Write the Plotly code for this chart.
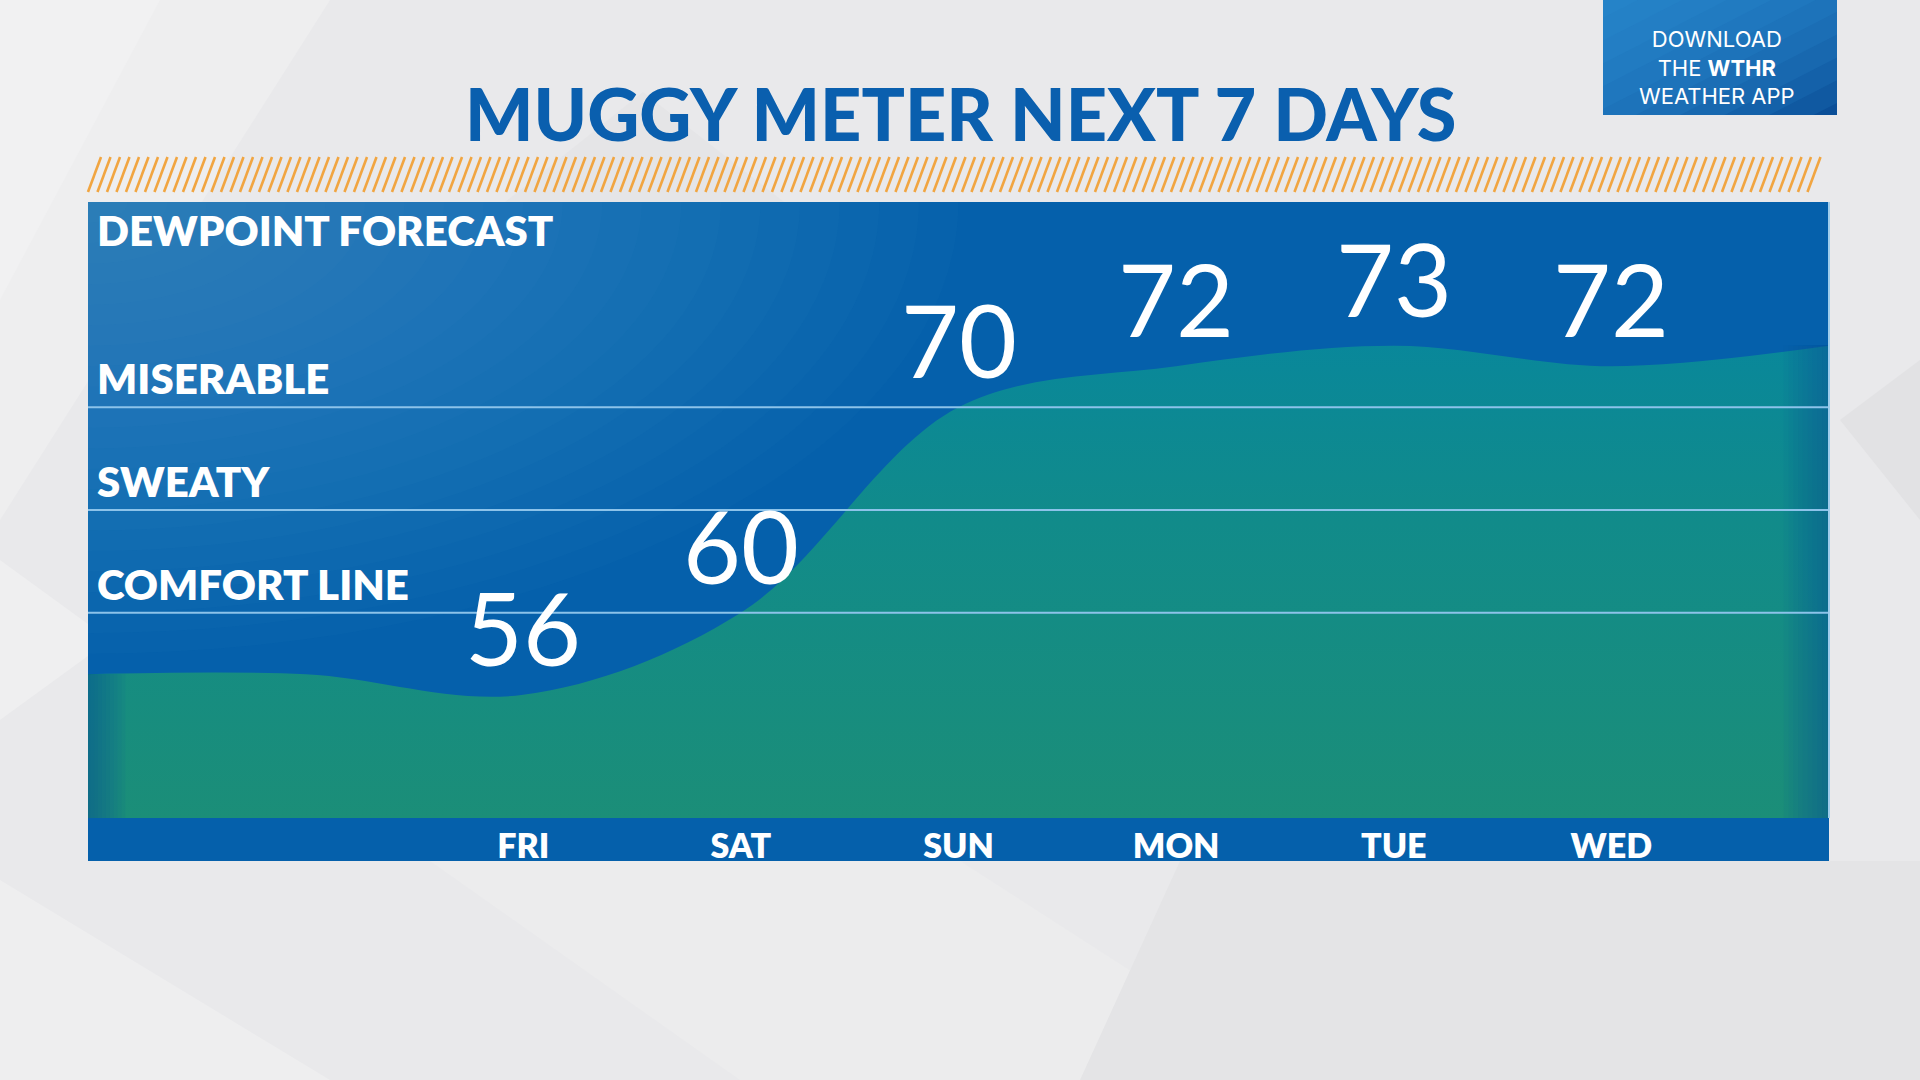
import plotly.graph_objects as go

# ---------------- data ----------------
days = ["FRI", "SAT", "SUN", "MON", "TUE", "WED"]
dewpoints = [56, 60, 70, 72, 73, 72]
lead_in = [57, 57]        # curve values before FRI (off-label days)
trail = [73]              # curve value after WED
zone_labels = ["MISERABLE", "SWEATY", "COMFORT LINE"]
zone_lines = [70, 65, 60]
title = "MUGGY METER NEXT 7 DAYS"
subtitle = "DEWPOINT FORECAST"
promo = "DOWNLOAD<br>THE <b>WTHR</b><br>WEATHER APP"

# ---------------- geometry (pixels of 1920x1080 canvas) ----------------
W, H = 1920, 1080
L, R, T, B = 88, 1829, 202, 818
def px(x):
    return (x - L) / (R - L)
def py(y):
    return (B - y) / (B - T)

x_all = list(range(-len(lead_in), 0)) + list(range(len(days))) + \
        list(range(len(days), len(days) + len(trail)))
y_all = lead_in + dewpoints + trail
xmin, xmax = x_all[0], x_all[-1]
YMIN, YMAX = 50, 80

BLUE = "#0560ab"
fig = go.Figure()

fig.add_trace(go.Scatter(
    x=x_all, y=y_all, mode="lines", line=dict(shape="spline", smoothing=1.0, width=0, color="#0a8898"),
    fill="tozeroy",
    fillgradient=dict(type="vertical", start=YMIN, stop=74,
                      colorscale=[[0, "#1b8e78"], [0.6, "#118b8a"], [1, "#08879c"]]),
    hoverinfo="skip", showlegend=False))

def path_px(points):
    s = ""
    for k, (x, y) in enumerate(points):
        s += ("M " if k == 0 else " L ") + f"{px(x)} {py(y)}"
    return s + " Z"

def clip_rect_diag(x0, y0, x1, y1, t):
    """Part of rect where (x-x0)/(x1-x0) + (y-y0)/(y1-y0) <= t (Sutherland-Hodgman)."""
    poly = [(x0, y0), (x1, y0), (x1, y1), (x0, y1)]
    f = lambda p: (p[0] - x0) / (x1 - x0) + (p[1] - y0) / (y1 - y0) - t
    out = []
    for i in range(len(poly)):
        a, b = poly[i], poly[(i + 1) % len(poly)]
        fa, fb = f(a), f(b)
        if fa <= 0:
            out.append(a)
        if (fa <= 0) != (fb <= 0):
            s = fa / (fa - fb)
            out.append((a[0] + s * (b[0] - a[0]), a[1] + s * (b[1] - a[1])))
    return out

shapes = []
# page background geometry (very subtle)
bg_polys = [
    ([(0, 0), (330, 0), (0, 520)], "#eeeeef"),
    ([(0, 300), (160, 0), (0, 0)], "#f1f1f2"),
    ([(470, 230), (643, 92), (820, 230)], "#e5e5e7"),
    ([(0, 560), (110, 640), (0, 720)], "#efeff0"),
    ([(0, 880), (330, 1080), (0, 1080)], "#eeeeef"),
    ([(430, 861), (960, 861), (1300, 1080), (740, 1080)], "#ececed"),
    ([(1180, 861), (1920, 861), (1920, 1080), (1080, 1080)], "#e4e4e6"),
    ([(1840, 420), (1920, 360), (1920, 520)], "#e2e2e4"),
]
for pts, col in bg_polys:
    shapes.append(dict(type="path", xref="paper", yref="paper", path=path_px(pts),
                       fillcolor=col, line_width=0, layer="below"))
# panel background + bottom bar
shapes.append(dict(type="rect", xref="paper", yref="paper", x0=0, x1=1, y0=py(861), y1=1,
                   fillcolor=BLUE, line_width=0, layer="below"))
# glow top-left (stacked translucent ellipses -> soft radial gradient)
n_glow = 22
for k in range(n_glow):
    r = 1.0 - k / n_glow
    shapes.append(dict(type="circle", xref="x", yref="y", x0=xmin - 4.0 * r, x1=xmin + 4.0 * r,
                       y0=YMAX - 22 * r, y1=YMAX + 22 * r, fillcolor="#6fb0e6", opacity=0.026,
                       line_width=0, layer="below"))
# edge vignettes on fill
nv = 10
for k in range(nv):
    w = (k + 1) / nv
    shapes.append(dict(type="rect", xref="x", yref="y", x0=xmin, x1=xmin + 0.18 * (1 - w) + 0.01,
                       y0=YMIN, y1=lead_in[0], fillcolor="#0b5d9e", opacity=0.08, line_width=0,
                       layer="above"))
    shapes.append(dict(type="rect", xref="x", yref="y", x0=xmax - 0.22 * (1 - w) - 0.01, x1=xmax,
                       y0=YMIN, y1=trail[-1], fillcolor="#0b5d9e", opacity=0.08, line_width=0,
                       layer="above"))
# threshold lines
for v in zone_lines:
    shapes.append(dict(type="line", xref="paper", yref="y", x0=0, x1=1, y0=v, y1=v,
                       line=dict(color="#8cc3ea", width=2), layer="above"))
# thin light rim on the panel's right edge
shapes.append(dict(type="line", xref="paper", yref="paper", x0=1, x1=1, y0=0, y1=1,
                   line=dict(color="#9fcdec", width=2), layer="above"))
# hatched stripe
sx = L
while sx + 13 <= R:
    shapes.append(dict(type="line", xref="paper", yref="paper", x0=px(sx), x1=px(sx + 13),
                       y0=py(192), y1=py(157), line=dict(color="#f1a541", width=2.6)))
    sx += 9.5
# download box (diagonal gradient via stacked translucent clipped bands)
bx0, by0, bx1, by1 = 1603, -5, 1837, 115
shapes.append(dict(type="rect", xref="paper", yref="paper", x0=px(bx0), x1=px(bx1),
                   y0=py(by1), y1=py(by0), fillcolor="#0b4f98", line_width=0))
for k in range(10):
    t = 1.9 * (1.0 - k / 10)
    shapes.append(dict(type="path", xref="paper", yref="paper",
                       path=path_px(clip_rect_diag(bx0, by0, bx1, by1, t)),
                       fillcolor="#2f95d8", opacity=0.15, line_width=0))

LABEL_FONT = dict(family="Lato", size=42, weight=800, color="white")
annotations = []
annotations.append(dict(text=title, xref="paper", yref="paper", x=px(960), y=py(113),
                        showarrow=False, xanchor="center", yanchor="middle",
                        font=dict(family="Lato", size=72, weight=900, color="#0a5fae")))
annotations.append(dict(text=subtitle, xref="paper", yref="paper", x=px(95), y=py(230),
                        showarrow=False, xanchor="left", yanchor="middle", font=LABEL_FONT))
for lab, v in zip(zone_labels, zone_lines):
    annotations.append(dict(text=lab, xref="paper", yref="y", x=px(95), y=v, yshift=29,
                            showarrow=False, xanchor="left", yanchor="middle", font=LABEL_FONT))
for i, v in enumerate(dewpoints):
    annotations.append(dict(text=str(v), x=i, y=v, yshift=68, showarrow=False,
                            xanchor="center", yanchor="middle",
                            font=dict(family="Lato", size=100, weight=400, color="white")))
annotations.append(dict(text=promo, xref="paper", yref="paper", x=px(1717), y=py(67),
                        showarrow=False, xanchor="center", yanchor="middle",
                        font=dict(family="Inter", size=22, weight=400, color="white")))

fig.update_layout(
    width=W, height=H,
    margin=dict(l=L, r=W - R, t=T, b=H - B, pad=0),
    paper_bgcolor="#e9e9eb", plot_bgcolor="rgba(0,0,0,0)",
    shapes=shapes, annotations=annotations, showlegend=False,
    xaxis=dict(range=[xmin, xmax], showgrid=False, zeroline=False, showline=False,
               tickmode="array", tickvals=list(range(len(days))), ticktext=days, ticks="",
               ticklabelstandoff=5,
               tickfont=dict(family="Lato", size=34, weight=800, color="white"), fixedrange=True),
    yaxis=dict(range=[YMIN, YMAX], showgrid=False, zeroline=False, showticklabels=False,
               showline=False, fixedrange=True),
)

fig.write_html("out.html", config={"displayModeBar": False},
               post_script="document.body.style.margin='0';document.body.style.overflow='hidden';")
